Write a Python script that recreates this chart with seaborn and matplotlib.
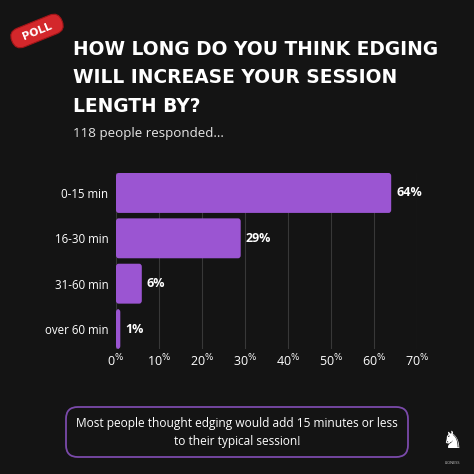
import numpy as np
import pandas as pd
import matplotlib
matplotlib.use("Agg")
import matplotlib.pyplot as plt
from matplotlib.patches import FancyBboxPatch
import matplotlib.transforms as mtransforms
import seaborn as sns

# poll data
categories = ["0-15 min", "16-30 min", "31-60 min", "over 60 min"]
shares = [64, 29, 6, 1]
x_ticks = [0, 10, 20, 30, 40, 50, 60, 70]

title = "HOW LONG DO YOU THINK EDGING\nWILL INCREASE YOUR SESSION\nLENGTH BY?"
subtitle = "118 people responded..."
note = "Most people thought edging would add 15 minutes or less\nto their typical session!"

BG = "#141414"
BAR = "#9b55d2"
GRID = "#383838"

sns.set_theme(style="dark")
plt.rcParams["font.family"] = ["Open Sans", "DejaVu Sans"]
plt.rcParams["mathtext.fontset"] = "dejavusans"

df = pd.DataFrame({"answer": categories, "share": shares})

fig = plt.figure(figsize=(4.74, 4.74), dpi=100, facecolor=BG)
ax = fig.add_axes([116 / 474, 1 - 349 / 474, (417 - 116) / 474, 176 / 474])
ax.set_facecolor(BG)

sns.barplot(data=df, x="share", y="answer", orient="h", color=BAR,
            width=0.88, saturation=1, ax=ax, zorder=3)

# swap the plain bars for slightly rounded ones
for p in list(ax.patches):
    x0, y0 = p.get_x(), p.get_y()
    w, h = p.get_width(), p.get_height()
    fb = FancyBboxPatch((x0, y0), w, h,
                        boxstyle="round,pad=0,rounding_size=0.6",
                        mutation_aspect=0.11, facecolor=BAR,
                        edgecolor="none", zorder=3)
    ax.add_patch(fb)
    p.set_visible(False)

for i, v in enumerate(shares):
    ax.text(v + 1.2, i, f"{v}%", color="white", fontsize=9,
            fontweight="bold", va="center", ha="left", zorder=4)

ax.set_xlim(0, 70)
ax.set_ylim(3.44, -0.44)
ax.set_xticks(x_ticks)
ax.set_xticklabels([f"{t}$^{{\\%}}$" for t in x_ticks])
ax.grid(axis="x", color=GRID, linewidth=0.8, zorder=0)
ax.grid(axis="y", visible=False)
ax.tick_params(axis="x", colors="white", labelsize=9, length=0, pad=3)
ax.tick_params(axis="y", colors="white", labelsize=8.3, length=0, pad=5.5)
ax.set_xlabel("")
ax.set_ylabel("")
for s in ax.spines.values():
    s.set_visible(False)

# heading
fig.text(73 / 474, 1 - 40 / 474, title, color="white", fontsize=13.4,
         fontweight="bold", family="DejaVu Sans", va="top", ha="left",
         linespacing=1.62)
fig.text(73 / 474, 1 - 133 / 474, subtitle, color="#e6e6e6", fontsize=9.6,
         va="center", ha="left")

# poll badge
badge = FancyBboxPatch((-27 / 474, -10 / 474), 54 / 474, 20 / 474,
                       boxstyle="round,pad=0,rounding_size=0.02",
                       facecolor="#d3272b", edgecolor="#a01518", linewidth=0.8,
                       transform=mtransforms.Affine2D().rotate_deg(22)
                       + mtransforms.Affine2D().translate(37 / 474, 1 - 31 / 474)
                       + fig.transFigure)
fig.patches.append(badge)
fig.text(37 / 474, 1 - 31 / 474, "POLL", color="white", fontsize=7.8,
         fontweight="bold", family="DejaVu Sans", rotation=22,
         ha="center", va="center", rotation_mode="anchor")

# takeaway box
box = FancyBboxPatch((66 / 474, 1 - 457 / 474), 342 / 474, 50 / 474,
                     boxstyle="round,pad=0,rounding_size=0.025",
                     facecolor=BG, edgecolor="#7a4aaa", linewidth=1.3,
                     transform=fig.transFigure)
fig.patches.append(box)
fig.text(237 / 474, 1 - 433 / 474, note, color="white", fontsize=8.6,
         ha="center", va="center", linespacing=1.5)

# brand mark
fig.text(452 / 474, 1 - 441 / 474, "♞", color="white", fontsize=17,
         family="DejaVu Sans", ha="center", va="center")
fig.text(452 / 474, 1 - 463 / 474, "LIONESS", color="#cccccc", fontsize=2.8,
         ha="center", va="center")

fig.savefig("out.png", dpi=100, facecolor=BG)
